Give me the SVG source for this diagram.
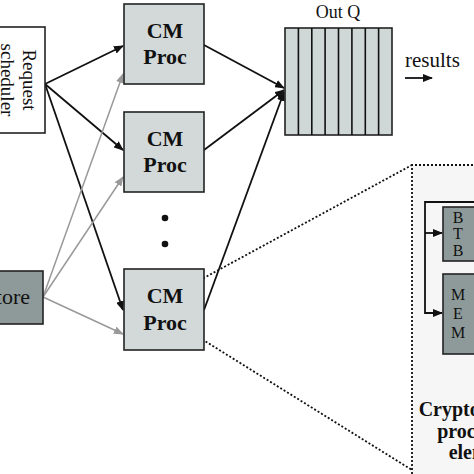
<svg xmlns="http://www.w3.org/2000/svg" width="474" height="474" viewBox="0 0 474 474">
<style>
.box{stroke:#222;stroke-width:1.6}
.proc{fill:#d3d9d9}
.dark{fill:#8e9a99}
.lbl{font-family:"Liberation Serif","Times New Roman",serif;fill:#111}
.b{font-weight:bold;font-size:22px;text-anchor:middle}
.s{font-size:16px;text-anchor:middle}
.blk{stroke:#111;stroke-width:1.8;fill:none}
.gry{stroke:#999;stroke-width:1.5;fill:none}
.dot{stroke:#111;stroke-width:1.8;stroke-dasharray:2,2;fill:none}
</style>
<defs>
<marker id="ah" markerWidth="10" markerHeight="8" refX="9" refY="4" orient="auto" markerUnits="userSpaceOnUse">
<path d="M0,0 L10,4 L0,8 Z" fill="#111"/>
</marker>
<marker id="ahg" markerWidth="10" markerHeight="8" refX="9" refY="4" orient="auto" markerUnits="userSpaceOnUse">
<path d="M0,0 L10,4 L0,8 Z" fill="#999"/>
</marker>
</defs>

<g id="panel">
<rect x="412" y="165" width="70" height="320" fill="#f6f6f6"/>
<path class="dot" d="M412,474 L412,165 L476,165"/>
</g>

<g id="connectors">
<path class="dot" d="M189,286 L412,165"/>
<path class="dot" d="M192,333 L412,470"/>
<line class="blk" x1="45" y1="84" x2="123" y2="46" marker-end="url(#ah)"/>
<line class="blk" x1="45" y1="84" x2="123" y2="150" marker-end="url(#ah)"/>
<line class="blk" x1="45" y1="84" x2="123" y2="310" marker-end="url(#ah)"/>
<line class="gry" x1="43" y1="297" x2="123" y2="74" marker-end="url(#ahg)"/>
<line class="gry" x1="43" y1="297" x2="123" y2="177" marker-end="url(#ahg)"/>
<line class="gry" x1="43" y1="297" x2="123" y2="334" marker-end="url(#ahg)"/>
<line class="blk" x1="204" y1="45" x2="284" y2="88" marker-end="url(#ah)"/>
<line class="blk" x1="204" y1="150" x2="284" y2="90" marker-end="url(#ah)"/>
<line class="blk" x1="204" y1="310" x2="284" y2="92" marker-end="url(#ah)"/>
<line class="blk" x1="405" y1="78" x2="432" y2="78" stroke-width="1.5" marker-end="url(#ah)"/>
<path class="blk" stroke-width="1.5" d="M476,202 L425,202 L425,313 L442,313" marker-end="url(#ah)"/>
<line class="blk" stroke-width="1.5" x1="425" y1="233" x2="442" y2="233" marker-end="url(#ah)"/>
</g>

<g id="scheduler">
<rect class="box" x="-10" y="27" width="55" height="106" fill="#fff"/>
<text class="lbl" font-size="19" text-anchor="middle" transform="translate(23,80) rotate(90)">Request</text>
<text class="lbl" font-size="19" text-anchor="middle" transform="translate(1,80) rotate(90)">scheduler</text>
</g>

<g id="store">
<rect class="box dark" x="-10" y="271" width="53" height="53"/>
<text class="lbl" font-size="22" text-anchor="end" x="30" y="304">Store</text>
</g>

<g id="proc1">
<rect class="box proc" x="124" y="4" width="80" height="80"/>
<text class="lbl b" x="165" y="38">CM</text>
<text class="lbl b" x="165" y="64">Proc</text>
</g>
<g id="proc2">
<rect class="box proc" x="124" y="112" width="80" height="80"/>
<text class="lbl b" x="165" y="146">CM</text>
<text class="lbl b" x="165" y="172">Proc</text>
</g>
<g id="dots">
<circle cx="165" cy="218" r="3.3" fill="#111"/>
<circle cx="165" cy="244" r="3.3" fill="#111"/>
</g>
<g id="proc3">
<rect class="box proc" x="124" y="269" width="80" height="81"/>
<text class="lbl b" x="165" y="303">CM</text>
<text class="lbl b" x="165" y="330">Proc</text>
</g>

<g id="outq">
<text class="lbl" font-size="18" text-anchor="middle" x="338" y="18">Out Q</text>
<rect class="box" x="285" y="28" width="107" height="107" fill="#d0d7d7"/>
<g stroke="#111" stroke-width="1.6">
<line x1="298.4" y1="28" x2="298.4" y2="135"/>
<line x1="311.8" y1="28" x2="311.8" y2="135"/>
<line x1="325.1" y1="28" x2="325.1" y2="135"/>
<line x1="338.5" y1="28" x2="338.5" y2="135"/>
<line x1="351.9" y1="28" x2="351.9" y2="135"/>
<line x1="365.3" y1="28" x2="365.3" y2="135"/>
<line x1="378.6" y1="28" x2="378.6" y2="135"/>
</g>
</g>

<g id="results">
<text class="lbl" font-size="21" x="405" y="67">results</text>
</g>

<g id="btb">
<rect class="box dark" x="443" y="207" width="34" height="54"/>
<text class="lbl s" x="458" y="223">B</text>
<text class="lbl s" x="458" y="239">T</text>
<text class="lbl s" x="458" y="256">B</text>
</g>
<g id="mem">
<rect class="box dark" x="443" y="274" width="34" height="80"/>
<text class="lbl s" x="458" y="300">M</text>
<text class="lbl s" x="458" y="319">E</text>
<text class="lbl s" x="458" y="338">M</text>
</g>

<g id="caption">
<text class="lbl" font-weight="bold" font-size="20" text-anchor="middle" x="482" y="416">Cryptographic</text>
<text class="lbl" font-weight="bold" font-size="20" text-anchor="middle" x="482" y="438">processing</text>
<text class="lbl" font-weight="bold" font-size="20" text-anchor="middle" x="482" y="459">element</text>
</g>
</svg>
